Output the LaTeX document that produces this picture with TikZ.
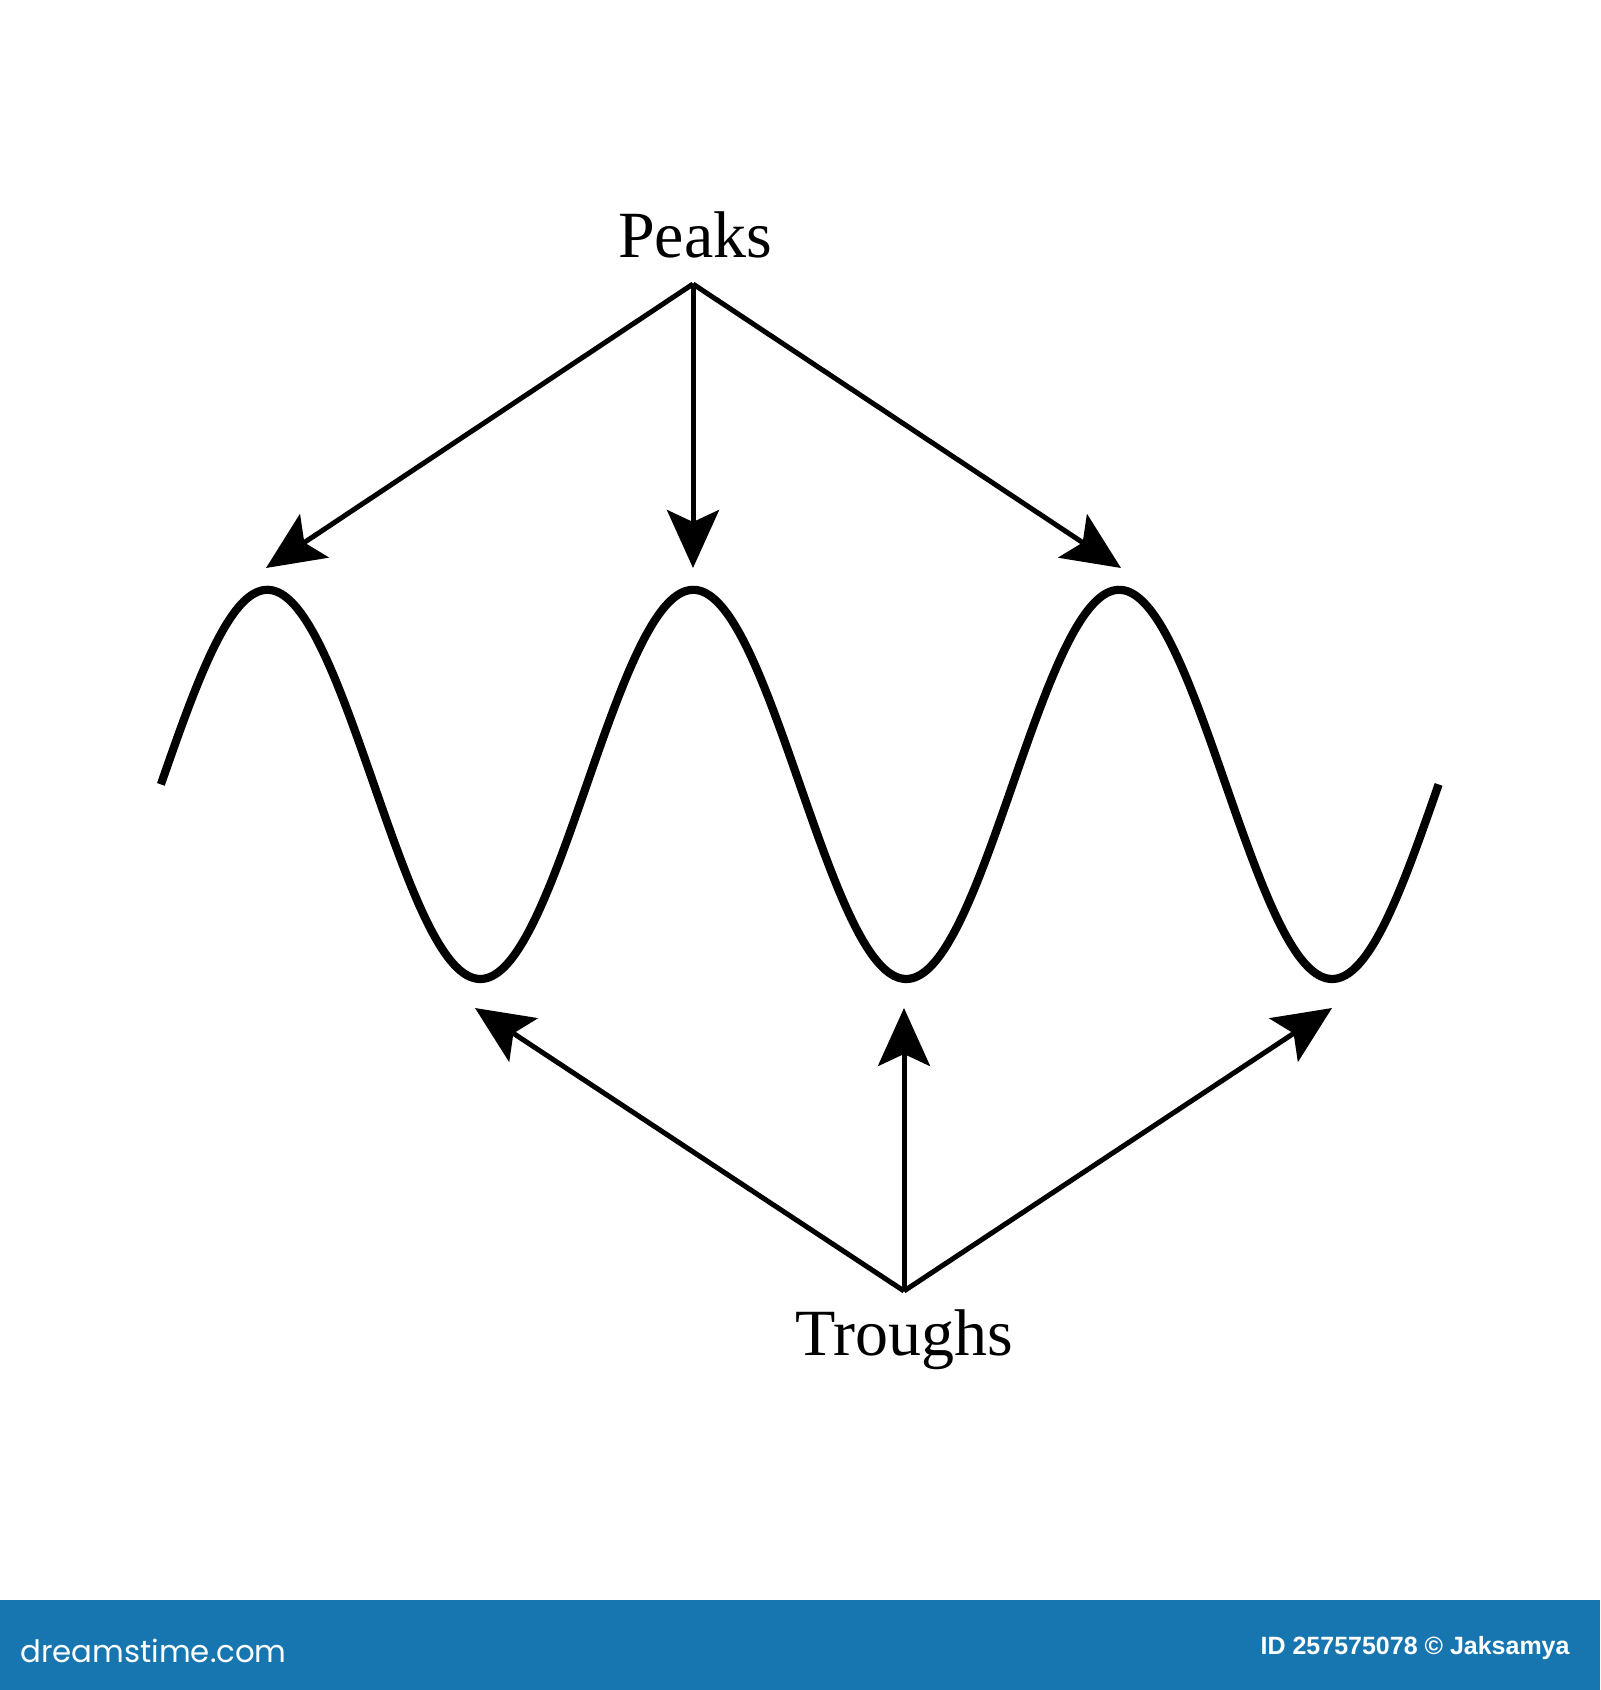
\documentclass[tikz,border=0pt]{standalone}
\usepackage{fontspec}
\setmainfont{Liberation Serif}
\newfontfamily\barfont{Liberation Sans}
\newfontfamily\logofont{Poppins}
\usetikzlibrary{arrows.meta}
\definecolor{barblue}{HTML}{1776B0}
\begin{document}
\begin{tikzpicture}[x=0.5pt,y=-0.5pt,
  pointer/.style={line width=2.5pt,-{Stealth[length=29pt,width=26pt,inset=6pt]}},
  wave/.style={line width=4.1pt},
  label/.style={font=\fontsize{33}{36}\selectfont,anchor=base,inner sep=0pt}]
\fill[white] (0,0) rectangle (1600,1690);
\useasboundingbox (0,0) rectangle (1600,1690);
% wave
\draw[wave] plot[domain=0:1080,samples=240,smooth] ({160.9+\x/360*425.9},{784.4-194.6*sin(\x)});
% labels
\node[label] (peaks) at (695,258) {Peaks};
\node[label] (troughs) at (904,1355) {Troughs};
% apexes and tips
\coordinate (pa) at (693,284);
\coordinate (p1) at (266,568);
\coordinate (p2) at (693,568);
\coordinate (p3) at (1121,568);
\coordinate (ta) at (904,1291);
\coordinate (t1) at (475,1008);
\coordinate (t2) at (904,1008);
\coordinate (t3) at (1332,1008);
\draw[pointer] (pa) -- (p1);
\draw[pointer] (pa) -- (p2);
\draw[pointer] (pa) -- (p3);
\draw[pointer] (ta) -- (t1);
\draw[pointer] (ta) -- (t2);
\draw[pointer] (ta) -- (t3);
% bottom bar
\fill[barblue] (0,1600) rectangle (1600,1690);
\node[anchor=base west,inner sep=0pt,text=white,font=\logofont\fontsize{15.4}{18}\selectfont] (logo) at (20,1662) {dreamstime.com};
\node[anchor=base east,inner sep=0pt,text=white,font=\barfont\bfseries\fontsize{12.5}{15}\selectfont] (credit) at (1570,1654) {ID 257575078 © Jaksamya};
\end{tikzpicture}
\end{document}
